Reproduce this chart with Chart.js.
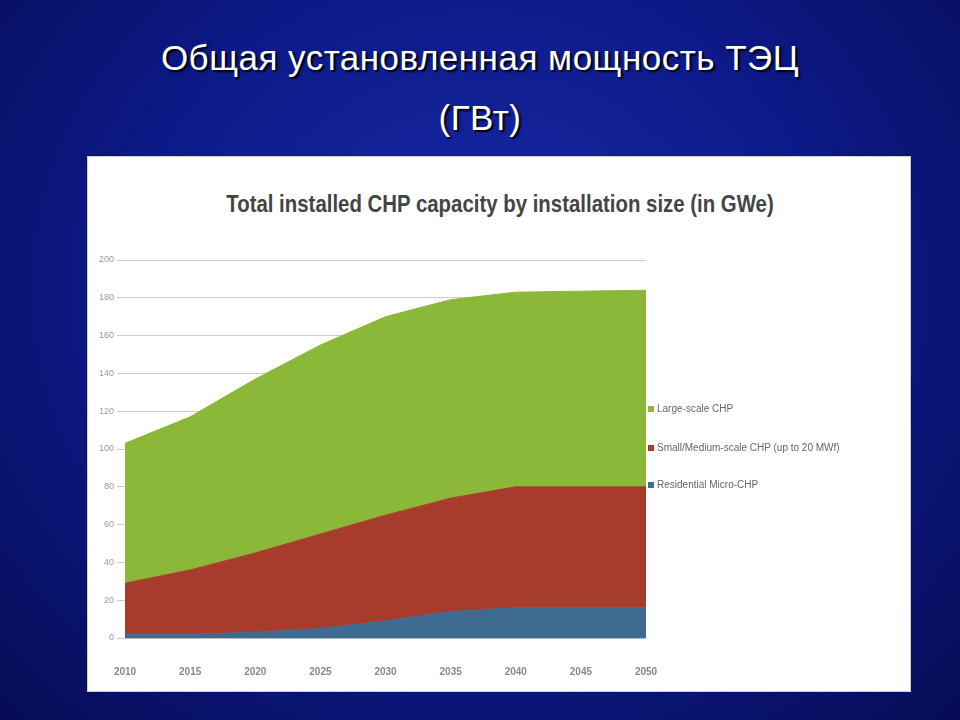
<!DOCTYPE html>
<html><head><meta charset="utf-8">
<script src="https://cdn.jsdelivr.net/npm/chart.js@4"></script>
<style>
body{margin:0;width:960px;height:720px;overflow:hidden;background:radial-gradient(ellipse at 50% 40%,#1a2aa8 0%,#0d1a8a 50%,#060c55 100%);font-family:"Liberation Sans",Arial,sans-serif;position:relative}
.t{position:absolute;left:0;width:960px;text-align:center;color:#fff;font-size:35px;letter-spacing:0.5px;text-shadow:2px 2px 2px #000}
#panel{position:absolute;left:87px;top:156px;width:824px;height:536px;background:#fff;border:1px solid #ccc;box-sizing:border-box}
#ct{position:absolute;left:0;width:824px;top:33px;text-align:center;font:bold 24px "Liberation Sans Narrow","Liberation Sans",sans-serif;color:#444;transform:scaleX(0.85)}
.lg{position:absolute;left:560px;font:10px "Liberation Sans Narrow","Liberation Sans",sans-serif;color:#666}
.lg span{display:inline-block;width:6px;height:6px;margin-right:3px}
</style></head><body>
<div class="t" style="top:38px">Общая установленная мощность ТЭЦ</div>
<div class="t" style="top:98px">(ГВт)</div>
<div id="panel">
<div id="ct">Total installed CHP capacity by installation size (in GWe)</div>
<canvas id="c" width="824" height="541" style="position:absolute;left:0;top:0"></canvas>
<div class="lg" style="top:246px"><span style="background:#8cb83a"></span>Large-scale CHP</div>
<div class="lg" style="top:285px"><span style="background:#a83c2c"></span>Small/Medium-scale CHP (up to 20 MWf)</div>
<div class="lg" style="top:322px"><span style="background:#3f6a91"></span>Residential Micro-CHP</div>
</div>
<script>
const years=['2010','2015','2020','2025','2030','2035','2040','2045','2050'];
const residential=[2,2,3,5,9,14,16,16,16];
const smallMedium=[27,34,42,50,56,60,64,64,64];
const largeScale=[74,81,92,100,105,105,103,103.5,104];
const yTicks=[0,20,40,60,80,100,120,140,160,180,200];
new Chart(document.getElementById('c'),{type:'line',
data:{labels:years,datasets:[
{label:'Residential Micro-CHP',data:residential,backgroundColor:'#3f6a91',borderColor:'#3f6a91',fill:'origin',pointRadius:0,borderWidth:1},
{label:'Small/Medium-scale CHP (up to 20 MWf)',data:smallMedium,backgroundColor:'#a83c2c',borderColor:'#a83c2c',fill:'-1',pointRadius:0,borderWidth:1},
{label:'Large-scale CHP',data:largeScale,backgroundColor:'#8cb83a',borderColor:'#8cb83a',fill:'-1',pointRadius:0,borderWidth:1}]},
options:{responsive:false,animation:false,layout:{padding:{top:103,right:266,left:8,bottom:0}},
plugins:{legend:{display:false},tooltip:{enabled:false}},
scales:{x:{offset:false,grid:{display:false},border:{color:'#bbb'},ticks:{color:'#888',padding:20,font:{size:10,weight:'bold'},maxRotation:0}},
y:{stacked:true,min:0,max:200,afterBuildTicks:a=>{a.ticks=yTicks.map(v=>({value:v}))},grid:{color:'#ccc'},border:{display:false},ticks:{color:'#999',font:{size:9}}}}}});
</script>
</body></html>
